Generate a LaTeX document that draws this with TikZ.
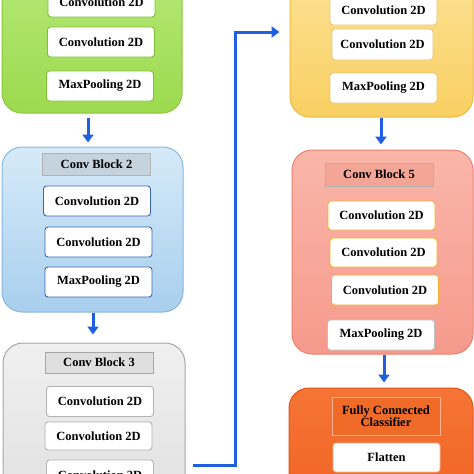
\documentclass[tikz,border=0pt]{standalone}
\usepackage{fontspec}
\setmainfont{Liberation Serif}
\usetikzlibrary{arrows.meta}
\definecolor{arrblue}{HTML}{1F5FE0}
\definecolor{gT}{HTML}{B8EA7C}\definecolor{gB}{HTML}{9CDA4E}\definecolor{gD}{HTML}{8CC63F}\definecolor{gI}{HTML}{7DBE3A}
\definecolor{bT}{HTML}{D6EAF8}\definecolor{bB}{HTML}{A8CFEE}\definecolor{bD}{HTML}{88B6DE}\definecolor{bI}{HTML}{3A66B8}\definecolor{bH}{HTML}{C4D3DE}
\definecolor{yT}{HTML}{FDE49C}\definecolor{yB}{HTML}{F8CF62}\definecolor{yD}{HTML}{F0B840}\definecolor{yI}{HTML}{EAC470}
\definecolor{sT}{HTML}{FAB6AA}\definecolor{sB}{HTML}{F59A8C}\definecolor{sD}{HTML}{E8806C}\definecolor{sI}{HTML}{F2B030}\definecolor{sH}{HTML}{F3A596}
\definecolor{oT}{HTML}{F57535}\definecolor{oB}{HTML}{F06020}\definecolor{oD}{HTML}{E0561A}\definecolor{oH}{HTML}{F06A28}\definecolor{oI}{HTML}{F8B090}
\tikzset{
  x=1pt, y=-1pt,
  blk/.style={draw, line width=1pt, rounded corners=20pt},
  inner/.style={draw, line width=0.9pt, rounded corners=3pt, fill=white, minimum width=107pt, minimum height=30pt, inner sep=0pt, font=\fontsize{12.5}{14}\selectfont\bfseries},
  hdr/.style={draw, line width=0.9pt, minimum width=108pt, minimum height=22pt, inner sep=0pt, align=center, font=\fontsize{12.5}{14}\selectfont\bfseries},
  arr/.style={draw=arrblue, line width=3pt, -{Triangle[length=8pt,width=11pt]}},
}
\begin{document}
\begin{tikzpicture}
\useasboundingbox (0,0) rectangle (474,474);
\clip (0,0) rectangle (474,474);
% blocks
\node[blk, draw=gD, top color=gT, bottom color=gB, minimum width=180pt, minimum height=163pt] (b1) at (92,31.5) {};
\node[blk, draw=bD, top color=bT, bottom color=bB, minimum width=181pt, minimum height=165pt] (b2) at (92.5,229.5) {};
\node[blk, draw=gray!70, top color=gray!12, bottom color=gray!25, minimum width=182pt, minimum height=177pt] (b3) at (94,431.5) {};
\node[blk, draw=yD, top color=yT, bottom color=yB, minimum width=183pt, minimum height=167pt] (b4) at (381.5,33.5) {};
\node[blk, draw=sD, top color=sT, bottom color=sB, minimum width=181pt, minimum height=204pt] (b5) at (382.5,252) {};
\node[blk, draw=oD, top color=oT, bottom color=oB, minimum width=184pt, minimum height=142pt] (b6) at (381,459) {};
% block 1
\node[inner, draw=gI] (b1c1) at (101.5,2) {Convolution 2D};
\node[inner, draw=gI] (b1c2) at (101,42) {Convolution 2D};
\node[inner, draw=gI] (b1p) at (100,86) {MaxPooling 2D};
% block 2
\node[hdr, draw=gray!60, fill=bH] (b2h) at (96.5,164) {Conv Block 2};
\node[inner, draw=bI] (b2c1) at (97,201) {Convolution 2D};
\node[inner, draw=bI] (b2c2) at (98.5,242) {Convolution 2D};
\node[inner, draw=bI] (b2p) at (98.5,282) {MaxPooling 2D};
% block 3
\node[hdr, draw=gray!70, fill=gray!25, minimum height=21pt] (b3h) at (99,362.5) {Conv Block 3};
\node[inner, draw=gray!60] (b3c1) at (100,401.5) {Convolution 2D};
\node[inner, draw=gray!60, minimum height=28pt] (b3c2) at (98.5,436) {Convolution 2D};
\node[inner, draw=gray!60] (b3c3) at (100,475) {Convolution 2D};
% block 4
\node[inner, draw=yI] (b4c1) at (383.5,10) {Convolution 2D};
\node[inner, draw=yI, minimum width=101pt, minimum height=31pt] (b4c2) at (382.5,44.5) {Convolution 2D};
\node[inner, draw=yI] (b4p) at (383.5,88) {MaxPooling 2D};
% block 5
\node[hdr, draw=gray!60, fill=sH, minimum height=23pt] (b5h) at (379,174.5) {Conv Block 5};
\node[inner, draw=sI, minimum height=29pt] (b5c1) at (381.5,215.5) {Convolution 2D};
\node[inner, draw=sI, minimum height=29pt] (b5c2) at (383.5,252.5) {Convolution 2D};
\node[inner, draw=sI] (b5c3) at (385,290) {Convolution 2D};
\node[inner, draw=gray!50] (b5p) at (381,335) {MaxPooling 2D};
% block 6
\node[hdr, draw=oI, fill=oH, minimum height=38pt] (b6h) at (386,416) {Fully Connected\\[-2pt]Classifier};
\node[inner, draw=oI, minimum height=29pt] (b6f) at (386.5,457.5) {Flatten};
% connectors
\coordinate (p1) at (88,0);
\coordinate (p2) at (93,0);
\coordinate (p4) at (381,0);
\coordinate (p5) at (384,0);
\coordinate (v) at (235,0);
\coordinate (h1) at (0,465);
\coordinate (h2) at (0,32);
\draw[arr] ([yshift=-4pt]b1.south -| p1) -- ([yshift=4pt]b2.north -| p1);
\draw[arr] (b2.south -| p2) -- ([yshift=8pt]b3.north -| p2);
\draw[arr] (b4.south -| p4) -- ([yshift=5pt]b5.north -| p4);
\draw[arr] (b5.south -| p5) -- ([yshift=5pt]b6.north -| p5);
\draw[arr] ([xshift=7pt]b3.east |- h1) -- (v |- h1) -- (v |- h2) -- ([xshift=-10pt]b4.west |- h2);
\end{tikzpicture}
\end{document}
